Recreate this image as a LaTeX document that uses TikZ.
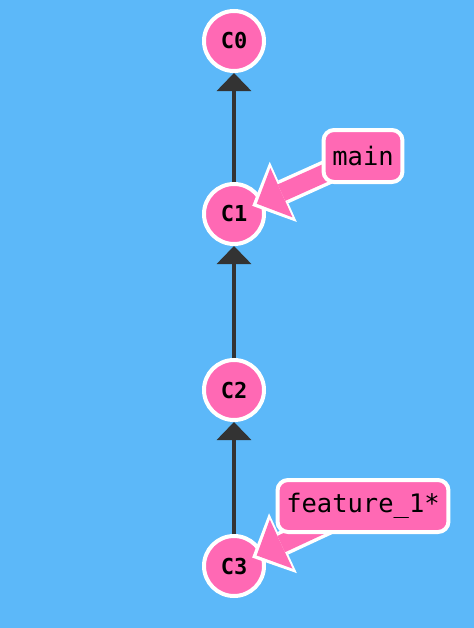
\documentclass[tikz,border=0pt]{standalone}
\usepackage{fontspec}
\newfontfamily\gitmono{DejaVu Sans Mono}
\usetikzlibrary{arrows.meta,positioning,calc}
\definecolor{gitbg}{HTML}{5CB8F9}
\definecolor{gitpink}{HTML}{FF69B4}
\definecolor{gitdark}{HTML}{333333}
\tikzset{
  commitnode/.style={circle, draw=white, fill=gitpink, line width=0.08cm, minimum size=1.2cm, inner sep=0pt, font=\gitmono\bfseries\fontsize{12.5}{14}\selectfont},
  branchbox/.style={draw=white, fill=gitpink, rounded corners=6pt, line width=0.08cm, minimum height=1.04cm, inner xsep=5pt, font=\gitmono\fontsize{14.5}{16}\selectfont},
  parentarrow/.style={-{Triangle[length=0.36cm, width=0.68cm]}, draw=gitdark, line width=0.07cm},
  brancharrow/.style={-{Triangle[length=0.54cm, width=1.08cm, line width=0pt]}, draw=gitpink, line width=0.36cm, shorten >=-0.14cm,
    preaction={draw=white, line width=0.5cm, -{Triangle[length=0.68cm, width=1.32cm, line width=0pt]}, shorten >=-0.24cm}}
}
\begin{document}
\begin{tikzpicture}
\fill[gitbg] (0,0) rectangle (9.48,-12.56);
\useasboundingbox (0,0) rectangle (9.48,-12.56);
\node[commitnode] (c0) at (4.68,-0.82) {C0};
\node[commitnode] (c1) at (4.68,-4.28) {C1};
\node[commitnode] (c2) at (4.68,-7.80) {C2};
\node[commitnode] (c3) at (4.68,-11.32) {C3};
\draw[parentarrow] (c1) -- (c0);
\draw[parentarrow] (c2) -- (c1);
\draw[parentarrow] (c3) -- (c2);
\coordinate (mainref) at (7.26,-3.12);
\coordinate (featref) at (7.26,-10.12);
\draw[brancharrow] (mainref) -- (c1);
\draw[brancharrow] (featref) -- (c3);
\node[branchbox] (main) at (mainref) {main};
\node[branchbox] (feature) at (featref) {feature\_1*};
\end{tikzpicture}
\end{document}
